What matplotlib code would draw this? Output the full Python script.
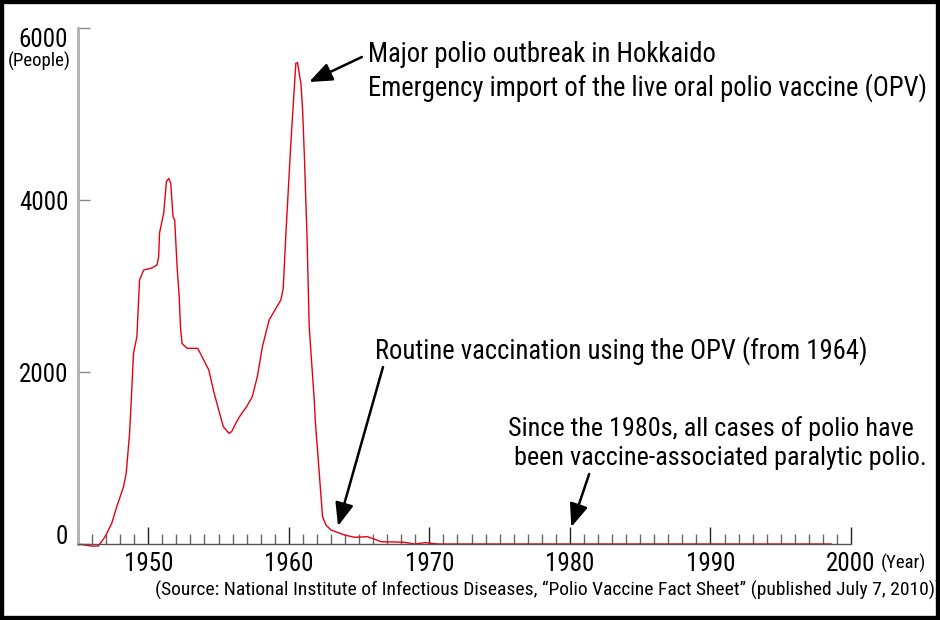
import numpy as np
import matplotlib
matplotlib.use("Agg")
import matplotlib.pyplot as plt
from matplotlib.patches import Rectangle
from matplotlib.ticker import MultipleLocator

# Polio cases in Japan
years = [
    1945.0, 1945.5, 1946.0, 1946.45, 1946.93, 1947.4, 1947.76, 1948.24, 1948.43,
    1948.67, 1948.79, 1948.95, 1949.19, 1949.3, 1949.38, 1949.67, 1950.26, 1950.62,
    1950.74, 1950.8, 1951.1, 1951.29, 1951.45, 1951.6, 1951.76, 1951.88, 1952.05,
    1952.2, 1952.29, 1952.4, 1952.76, 1953.52, 1954.31, 1954.63, 1955.14, 1955.34,
    1955.74, 1955.93, 1956.29, 1956.57, 1957.0, 1957.4, 1957.76, 1958.12, 1958.6,
    1959.43, 1959.6, 1959.79, 1960.14, 1960.38, 1960.5, 1960.62, 1960.74, 1960.86,
    1960.98, 1961.1, 1961.29, 1961.45, 1961.81, 1961.88, 1962.4, 1962.64, 1963.0,
    1963.95, 1964.67, 1965.6, 1966.57, 1968.2, 1968.95, 1969.7, 1970.6, 1998.6,
]
cases = [
    0, -12, -25, -23, 85, 240, 434, 667, 822,
    1287, 1674, 2220, 2410, 2800, 3070, 3186, 3210, 3245,
    3340, 3615, 3850, 4213, 4252, 4193, 3806, 3767, 3225,
    2876, 2527, 2333, 2275, 2275, 2023, 1790, 1480, 1364,
    1287, 1306, 1422, 1500, 1597, 1713, 1946, 2294, 2605,
    2837, 2970, 3600, 4650, 5279, 5590, 5597, 5473, 5357,
    5047, 4543, 3600, 2527, 1674, 1442, 317, 221, 163,
    105, 78, 85, 27, 20, 0, 16, 0, 0,
]

y_ticks = [0, 2000, 4000, 6000]
x_ticks = [1950, 1960, 1970, 1980, 1990, 2000]

note_outbreak = "Major polio outbreak in Hokkaido\nEmergency import of the live oral polio vaccine (OPV)"
note_routine = "Routine vaccination using the OPV (from 1964)"
note_vapp = "Since the 1980s, all cases of polio have\n been vaccine-associated paralytic polio."
source = "(Source: National Institute of Infectious Diseases, \u201cPolio Vaccine Fact Sheet\u201d (published July 7, 2010))"

FONT = ["Roboto Condensed", "Lato", "DejaVu Sans"]
plt.rcParams["font.family"] = FONT

fig = plt.figure(figsize=(9.4, 6.2), dpi=100)
ax = fig.add_axes([78 / 940, 1 - 544 / 620, (851 - 78) / 940, (544 - 28) / 620])

ax.plot(years, cases, color="#e60012", lw=1.0, clip_on=False)

ax.set_xlim(1945, 2000)
ax.set_ylim(0, 6000)

for s in ["top", "right"]:
    ax.spines[s].set_visible(False)
ax.spines["left"].set_color("#b0b0b0")
ax.spines["left"].set_linewidth(2)
ax.spines["bottom"].set_color("#555555")
ax.spines["bottom"].set_linewidth(1)

ax.set_xticks(x_ticks)
ax.xaxis.set_minor_locator(MultipleLocator(1))
ax.tick_params(axis="x", which="major", direction="in", length=12, width=1,
               color="#222222", labelsize=18, pad=6)
ax.tick_params(axis="x", which="minor", direction="in", length=7.5, width=1,
               color="#666666")
ax.set_yticks(y_ticks)
ax.tick_params(axis="y", direction="in", length=8.5, width=1, color="#888888",
               labelsize=18, pad=7)
ylabels = ax.get_yticklabels()
ylabels[-1].set_va("top")
ylabels[0].set_va("baseline")

ax.text(-0.009, 0.935, "(People)", transform=ax.transAxes, ha="right", va="center",
        fontsize=13.5)
ax.text(1.038, -0.037, "(Year)", transform=ax.transAxes, ha="left", va="center",
        fontsize=13.5)

arrow = dict(arrowstyle="-|>,head_length=0.7,head_width=0.28", color="black",
             lw=1.8, shrinkA=0, shrinkB=0, mutation_scale=20)

ax.annotate("", xy=(1961.44, 5372), xytext=(1965.2, 5663), arrowprops=arrow)
ax.text(1965.64, 5494, note_outbreak, ha="left", va="center", fontsize=19.2,
        linespacing=1.2)

ax.annotate("", xy=(1963.5, 209), xytext=(1966.7, 2058), arrowprops=arrow)
ax.text(1966.14, 2244, note_routine, ha="left", va="center", fontsize=19.2)

ax.annotate("", xy=(1980.1, 198), xytext=(1981.37, 814), arrowprops=arrow)
ax.text(1975.6, 1174, note_vapp, ha="left", va="center", fontsize=18.8,
        linespacing=1.25)

fig.text(155 / 940, 1 - 590 / 620, source, ha="left", va="center", fontsize=14)

fig.patches.append(Rectangle((0, 0), 1, 1, transform=fig.transFigure, fill=False,
                             lw=6, ec="black"))

fig.savefig("out.png", dpi=100)
